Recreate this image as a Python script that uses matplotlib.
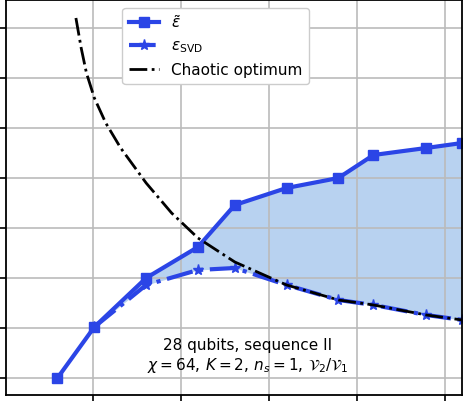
import matplotlib
matplotlib.use('Agg')
import matplotlib.pyplot as plt
import numpy as np

# values (grid units)
x_pts   = [1.01, 1.6, 2.19, 2.61, 3.2, 3.79, 4.19, 4.79, 5.2]
eps     = [1.52, 2.5, 3.12, 3.96, 4.3, 4.5, 4.96, 5.1, 5.2]
eps_svd = [1.52, 2.36, 2.66, 2.7, 2.36, 2.06, 1.96, 1.76, 1.66]
x0, eps0 = 0.59, 0.5

x_chaos = [0.8, 0.86, 0.92, 1.01, 1.14, 1.31, 1.6, 1.89, 2.19, 2.61, 3.2, 3.79, 4.19, 4.79, 5.2]
y_chaos = [7.7, 7.1, 6.6, 6.1, 5.6, 5.1, 4.4, 3.8, 3.3, 2.82, 2.36, 2.06, 1.96, 1.76, 1.66]

blue = '#2b45e6'
fig = plt.figure(figsize=(4.74, 4.01), dpi=100)
ax = fig.add_axes([0.012, 0.015, 0.963, 0.985])

e = np.array(eps); s = np.array(eps_svd)
ax.fill_between(x_pts, e, s, where=e >= s, interpolate=True, color='#b8d2f0', lw=0)
ax.plot([x0] + x_pts, [eps0] + eps, '-s', color=blue, lw=3, ms=7, label=r'$\tilde{\varepsilon}$')
ax.plot(x_pts, eps_svd, '-.*', color=blue, lw=3, ms=8, label=r'$\varepsilon_{\rm SVD}$')
ax.plot(x_chaos, y_chaos, '-.', color='black', lw=2, label='Chaotic optimum')

ax.set_xlim(0, 5.2)
ax.set_ylim(0.16, 8.06)
ax.set_xticks([1, 2, 3, 4, 5])
ax.set_yticks(np.arange(0.5, 8, 1.0))
ax.set_xticklabels([]); ax.set_yticklabels([])
ax.tick_params(length=5, width=1.2)
ax.grid(True, color='#bbbbbb', lw=1.2)
for sp in ax.spines.values():
    sp.set_linewidth(1.3)

ax.legend(loc='upper center', bbox_to_anchor=(0.46, 1.0), fontsize=11, framealpha=1)
ax.text(0.53, 0.05, '28 qubits, sequence II\n' +
        r'$\chi=64,\,K=2,\,n_s=1,\,\mathcal{V}_2/\mathcal{V}_1$',
        transform=ax.transAxes, ha='center', va='bottom', fontsize=11)

plt.savefig('out.png', dpi=100)
